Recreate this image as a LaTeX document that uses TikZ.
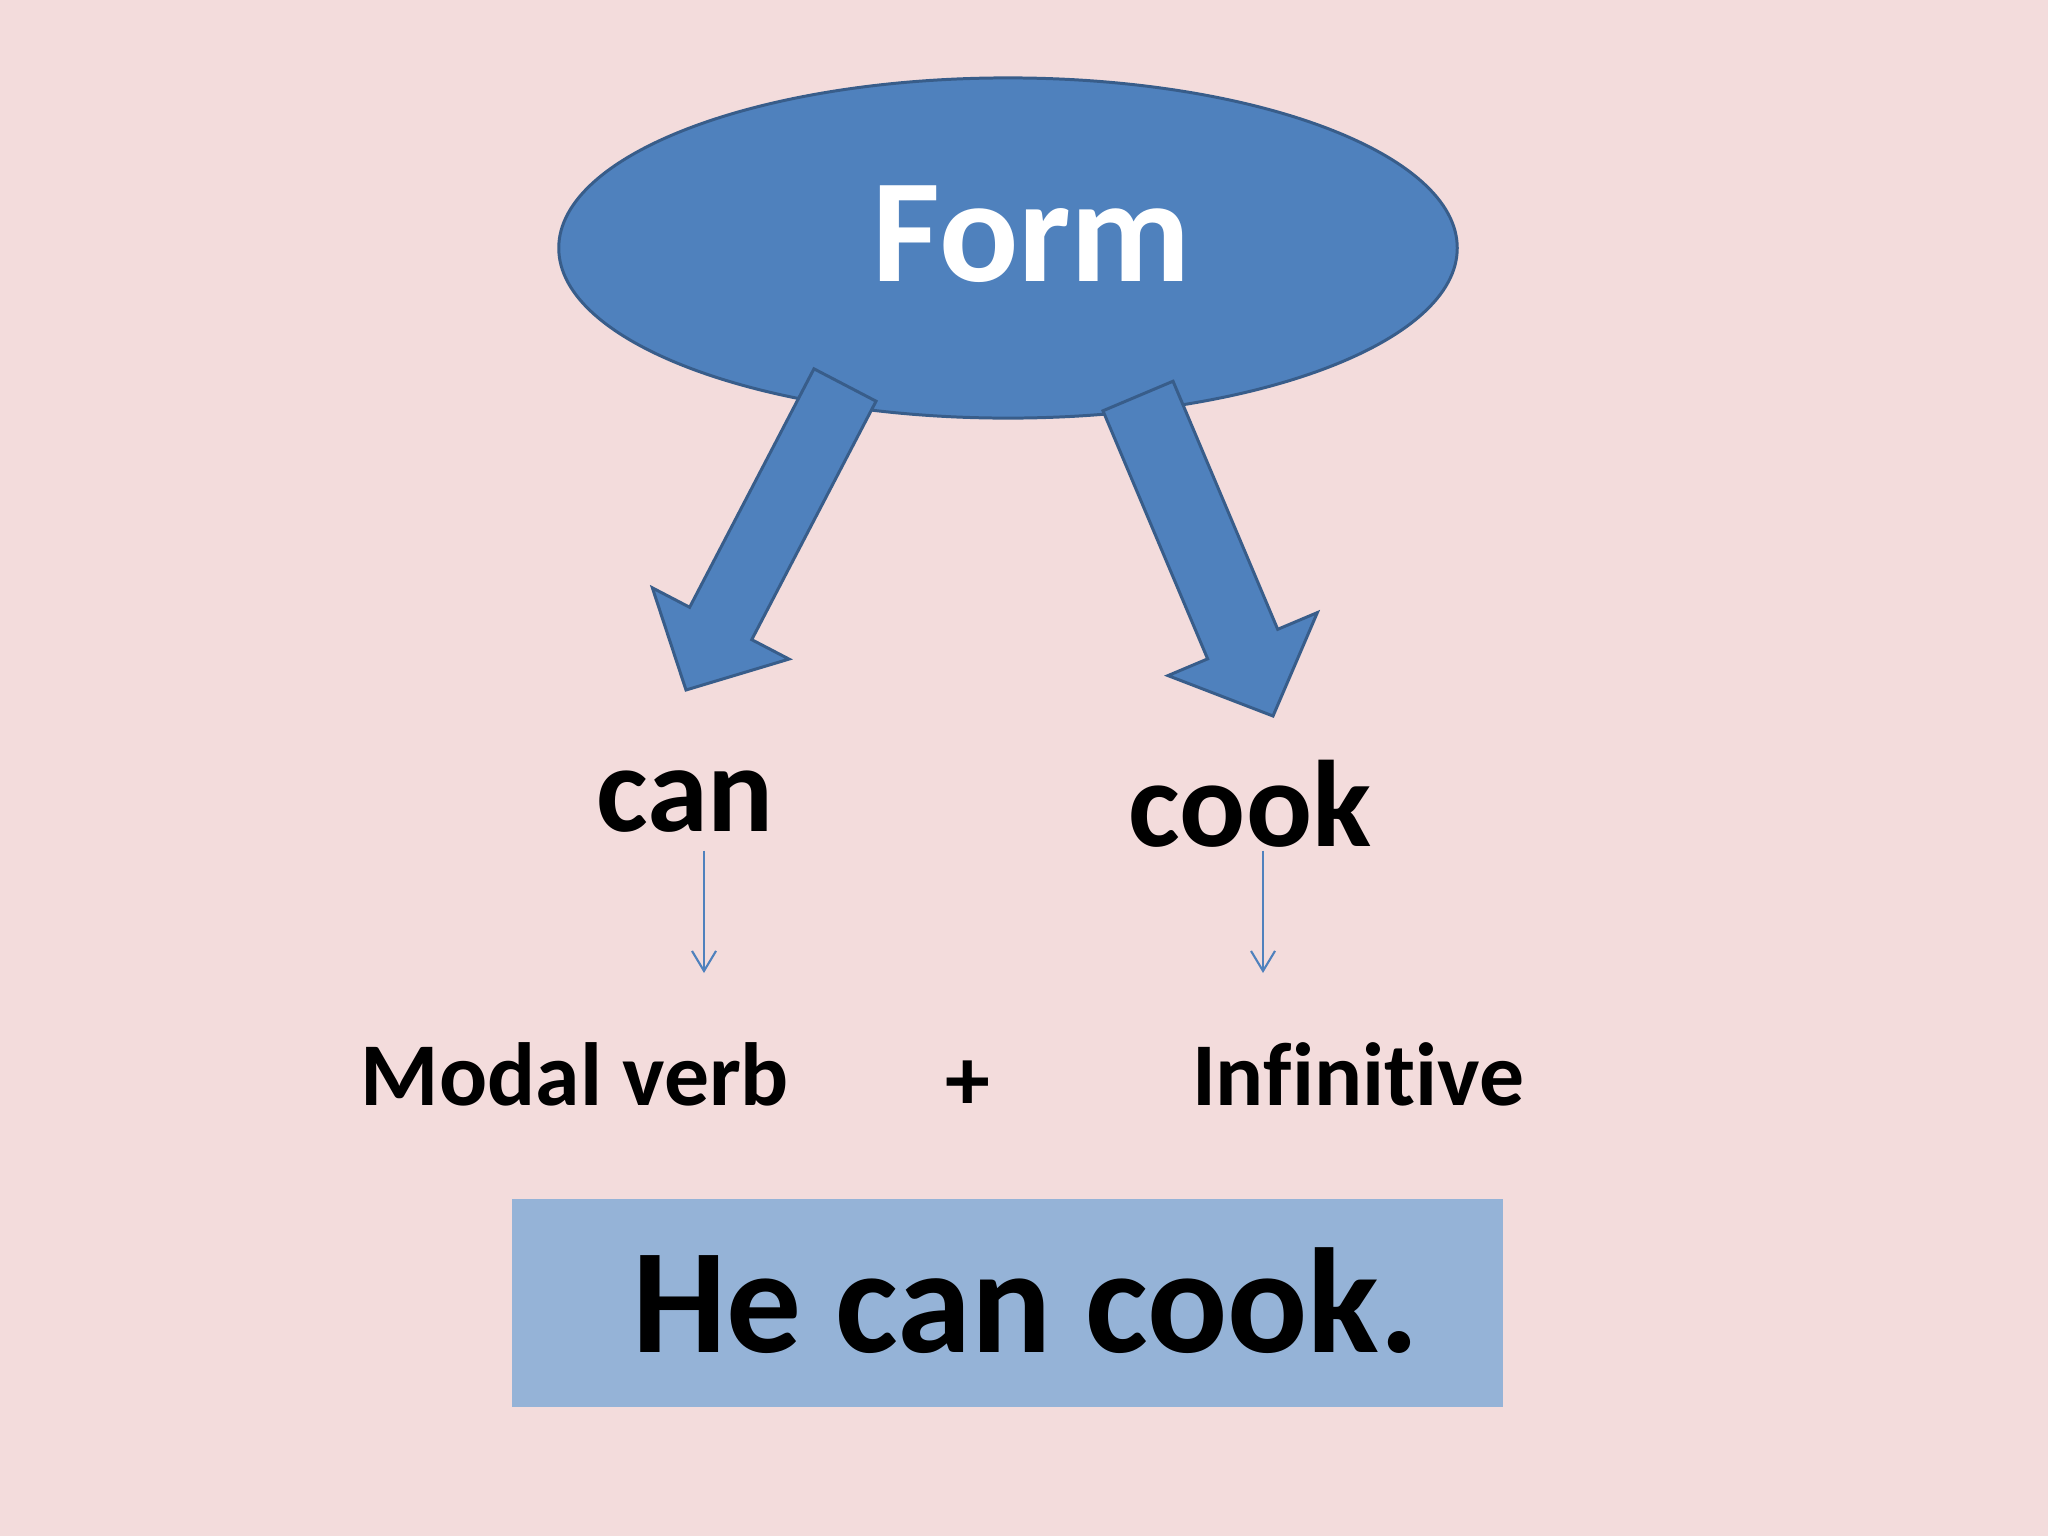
\documentclass[tikz,border=0pt]{standalone}
\usepackage{fontspec}
\setmainfont{Carlito}[Ligatures={NoCommon}]
\usetikzlibrary{calc,arrows.meta,shapes.geometric}
\definecolor{pinkback}{RGB}{243,220,220}
\definecolor{formblue}{RGB}{79,129,189}
\definecolor{formline}{RGB}{56,93,138}
\definecolor{sentblue}{RGB}{149,179,215}

\begin{document}
\begin{tikzpicture}[x=0.01cm, y=-0.01cm,
		formshape/.style={ellipse, fill=formblue, draw=formline, line width=0.85pt, minimum width=8.98cm, minimum height=3.40cm},
		fatarrow/.style={fill=formblue, draw=formline, line width=0.85pt, line join=miter},
		thinarrow/.style={draw=formblue, line width=0.6pt, -{Straight Barb[length=2mm,width=2.4mm]}},
		word/.style={inner sep=0pt, anchor=base, font=\bfseries},
		sentbox/.style={fill=sentblue, minimum width=9.91cm, minimum height=2.08cm, inner sep=0pt}]
			\fill [color=pinkback] (0,0) rectangle (2048,1536);
			\node[formshape] (form) at (1008,248) {};
			\node[word, text=white, font=\bfseries\fontsize{42}{50}\selectfont] (formword) at (1032,281) {Form};
			\coordinate (canin) at (845,385);
			\coordinate (canhead) at (686,690);
			\coordinate (canneck) at ($(canhead)!0.75cm!(canin)$);
			\filldraw[fatarrow] ($(canin)!0.35cm!90:(canhead)$) -- ($(canneck)!0.35cm!90:(canhead)$) -- ($(canneck)!0.77cm!90:(canhead)$) -- (canhead) -- ($(canneck)!0.77cm!-90:(canhead)$) -- ($(canneck)!0.35cm!-90:(canhead)$) -- ($(canin)!0.35cm!-90:(canhead)$) -- cycle;
			\coordinate (cookin) at (1138,396);
			\coordinate (cookhead) at (1273,716);
			\coordinate (cookneck) at ($(cookhead)!0.78cm!(cookin)$);
			\filldraw[fatarrow] ($(cookin)!0.38cm!90:(cookhead)$) -- ($(cookneck)!0.38cm!90:(cookhead)$) -- ($(cookneck)!0.81cm!90:(cookhead)$) -- (cookhead) -- ($(cookneck)!0.81cm!-90:(cookhead)$) -- ($(cookneck)!0.38cm!-90:(cookhead)$) -- ($(cookin)!0.38cm!-90:(cookhead)$) -- cycle;
			\node[word, font=\bfseries\fontsize{35}{42}\selectfont] (can) at (685,831) {can};
			\node[word, font=\bfseries\fontsize{35}{42}\selectfont] (cook) at (1250,846) {cook};
			\coordinate (canend) at (704,973);
			\coordinate (cookend) at (1263,973);
			\draw[thinarrow, shorten <=0.18cm] (canend |- can.south) -- (canend);
			\draw[thinarrow, shorten <=0.03cm] (cookend |- cook.south) -- (cookend);
			\node[word, font=\bfseries\fontsize{25.5}{30}\selectfont] (modal) at (575,1105) {Modal verb};
			\node[word, font=\bfseries\fontsize{25.5}{30}\selectfont] (plus) at (968,1110) {+};
			\node[word, font=\bfseries\fontsize{25.5}{30}\selectfont] (infinitive) at (1358,1105) {Infinitive};
			\node[sentbox] (sentence) at (1007.5,1303) {};
			\node[word, font=\bfseries\fontsize{42.5}{50}\selectfont] (sentword) at (1026,1352) {He can cook.};
		\end{tikzpicture}
\end{document}
